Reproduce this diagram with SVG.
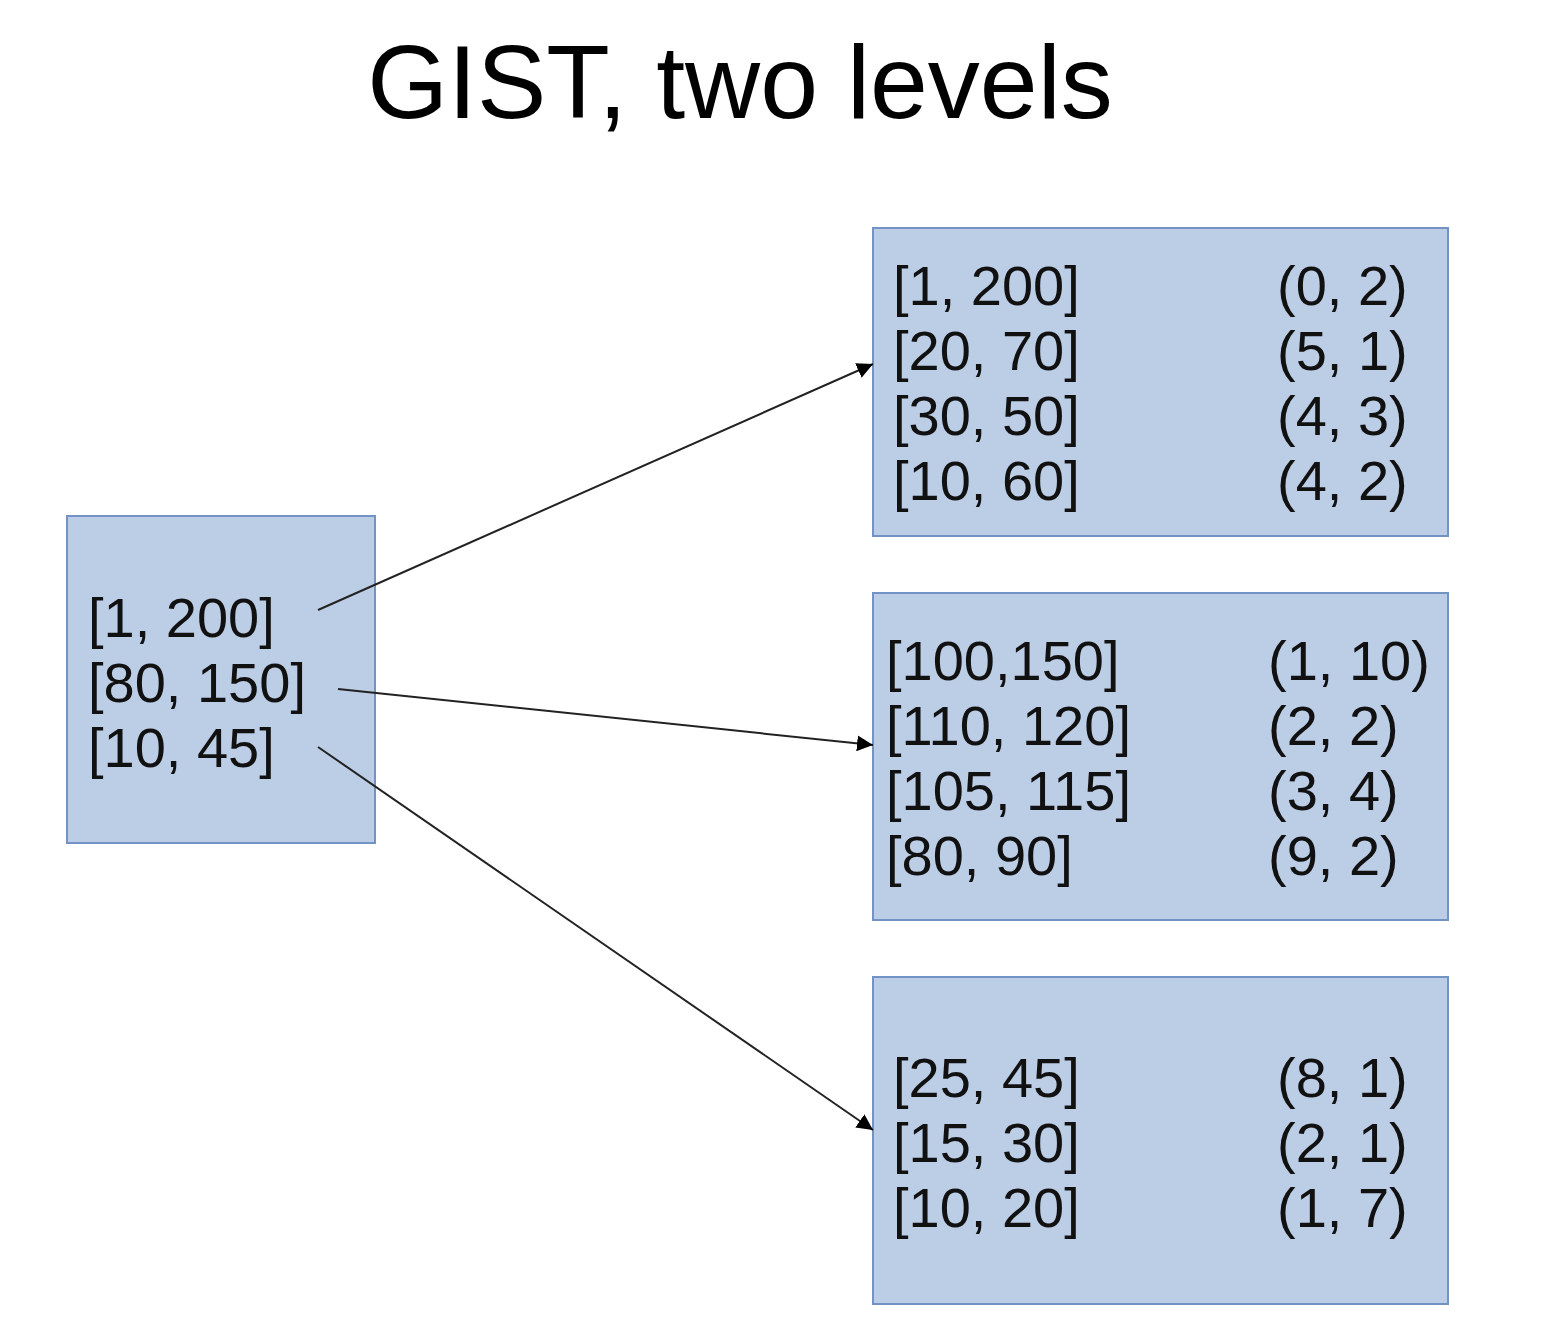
<svg xmlns="http://www.w3.org/2000/svg" width="1560" height="1330" viewBox="0 0 1560 1330">
<defs>
<style>
.box{fill:#bccde6;stroke:#7393c4;stroke-width:2}
.t{font-family:"Liberation Sans",Arial,sans-serif;font-size:56px;fill:#111}
.e{stroke:#222;stroke-width:2;fill:none;marker-end:url(#a)}
</style>
<marker id="a" viewBox="0 0 10 10" refX="10" refY="5" markerWidth="16" markerHeight="16" markerUnits="userSpaceOnUse" orient="auto"><path d="M0,0L10,5L0,10z" fill="#000"/></marker>
</defs>
<rect width="1560" height="1330" fill="#fff"/>
<text x="740" y="118" text-anchor="middle" font-family="Liberation Sans,Arial,sans-serif" font-size="104" fill="#000">GIST, two levels</text>
<g id="root"><rect class="box" x="67" y="516" width="308" height="327"/>
<text class="t" x="88" y="637">[1, 200]</text><text class="t" x="88" y="702">[80, 150]</text><text class="t" x="88" y="767">[10, 45]</text></g>
<g id="leaf1"><rect class="box" x="873" y="228" width="575" height="308"/>
<text class="t" x="893" y="305">[1, 200]</text><text class="t" x="1277" y="305">(0, 2)</text>
<text class="t" x="893" y="370">[20, 70]</text><text class="t" x="1277" y="370">(5, 1)</text>
<text class="t" x="893" y="435">[30, 50]</text><text class="t" x="1277" y="435">(4, 3)</text>
<text class="t" x="893" y="500">[10, 60]</text><text class="t" x="1277" y="500">(4, 2)</text></g>
<g id="leaf2"><rect class="box" x="873" y="593" width="575" height="327"/>
<text class="t" x="886" y="680">[100,150]</text><text class="t" x="1268" y="680">(1, 10)</text>
<text class="t" x="886" y="745">[110, 120]</text><text class="t" x="1268" y="745">(2, 2)</text>
<text class="t" x="886" y="810">[105, 115]</text><text class="t" x="1268" y="810">(3, 4)</text>
<text class="t" x="886" y="875">[80, 90]</text><text class="t" x="1268" y="875">(9, 2)</text></g>
<g id="leaf3"><rect class="box" x="873" y="977" width="575" height="327"/>
<text class="t" x="893" y="1097">[25, 45]</text><text class="t" x="1277" y="1097">(8, 1)</text>
<text class="t" x="893" y="1162">[15, 30]</text><text class="t" x="1277" y="1162">(2, 1)</text>
<text class="t" x="893" y="1227">[10, 20]</text><text class="t" x="1277" y="1227">(1, 7)</text></g>
<g id="connectors">
<path class="e" d="M318,610L873,364"/>
<path class="e" d="M338,689L873,745"/>
<path class="e" d="M318,747L873,1130"/>
</g>
</svg>
